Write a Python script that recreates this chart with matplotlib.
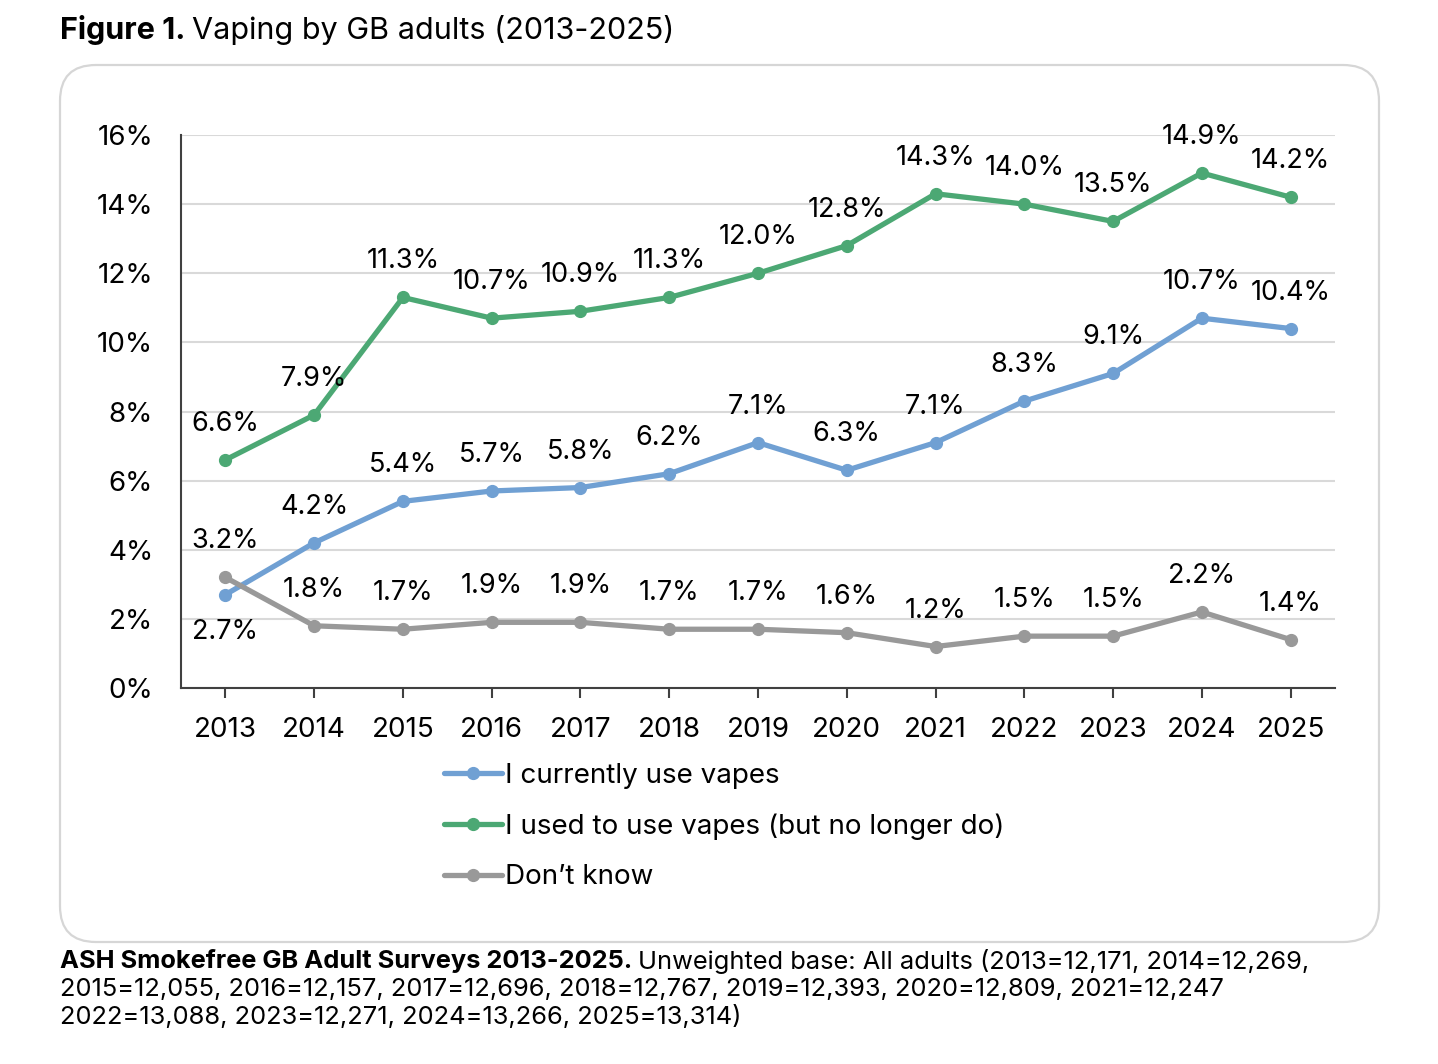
import numpy as np
import matplotlib.pyplot as plt
from matplotlib.patches import FancyBboxPatch

plt.rcParams['font.family'] = ['Inter', 'DejaVu Sans']

# datos
years = ["2013", "2014", "2015", "2016", "2017", "2018", "2019",
         "2020", "2021", "2022", "2023", "2024", "2025"]
current = [2.7, 4.2, 5.4, 5.7, 5.8, 6.2, 7.1, 6.3, 7.1, 8.3, 9.1, 10.7, 10.4]
former = [6.6, 7.9, 11.3, 10.7, 10.9, 11.3, 12.0, 12.8, 14.3, 14.0, 13.5, 14.9, 14.2]
dont_know = [3.2, 1.8, 1.7, 1.9, 1.9, 1.7, 1.7, 1.6, 1.2, 1.5, 1.5, 2.2, 1.4]
labels = ["I currently use vapes", "I used to use vapes (but no longer do)", "Don\u2019t know"]
colors = ["#70a0d3", "#4ca874", "#999999"]

fig = plt.figure(figsize=(14.38, 10.64), dpi=100)

# caja redondeada
box = FancyBboxPatch((60/1438, 1-942/1064), (1379-60)/1438, (942-65)/1064,
                     boxstyle="round,pad=0,rounding_size=0.025",
                     transform=fig.transFigure, facecolor="white",
                     edgecolor="#d6d6d6", linewidth=1.6, mutation_aspect=1438/1064,
                     zorder=-5)
fig.patches.append(box)

ax = fig.add_axes([181/1438, 1-688/1064, (1335-181)/1438, (688-135)/1064])
ax.patch.set_alpha(0)
x = np.arange(len(years))

series = [current, former, dont_know]
for vals, lab, col in zip(series, labels, colors):
    ax.plot(x, vals, color=col, linewidth=3.8, marker="o", markersize=8.5,
            label=lab, solid_capstyle="round", zorder=3)

def put_labels(vals, below=()):
    for i, v in enumerate(vals):
        dy = -37 if i in below else 36
        ax.annotate(f"{v:.1f}%", (i, v), xytext=(0, dy), textcoords="offset pixels",
                    ha="center", va="center", fontsize=19.5, color="black")

put_labels(current, below=(0,))
put_labels(former)
put_labels(dont_know)

ax.set_xlim(-0.5, len(years) - 0.5)
ax.set_ylim(0, 16)
ax.set_yticks(np.arange(0, 17, 2))
ax.set_yticklabels([f"{t}%" for t in range(0, 17, 2)])
ax.set_xticks(x)
ax.set_xticklabels(years)
ax.tick_params(axis="y", length=0, pad=20, labelsize=20)
ax.tick_params(axis="x", length=7, width=1.5, color="#404040", pad=14, labelsize=20)
ax.grid(axis="y", color="#d9d9d9", linewidth=1.5)
ax.set_axisbelow(True)
for s in ["top", "right"]:
    ax.spines[s].set_visible(False)
for s in ["left", "bottom"]:
    ax.spines[s].set_color("#404040")
    ax.spines[s].set_linewidth(1.5)

leg = fig.legend(loc="upper left", bbox_to_anchor=(430/1438, 1-749/1064), frameon=False,
                 fontsize=20, handlelength=2.1, handletextpad=0.1, labelspacing=0.88,
                 borderpad=0)

# titulo y pie
r = fig.canvas.get_renderer()
t1 = fig.text(60/1438, 1-30/1064, "Figure 1.", fontsize=22, fontweight="bold", va="center")
w = t1.get_window_extent(r).width
fig.text((60 + w + 7)/1438, 1-30/1064, "Vaping by GB adults (2013-2025)", fontsize=22, va="center")

f1 = fig.text(60/1438, 1-961/1064, "ASH Smokefree GB Adult Surveys 2013-2025.", fontsize=18.3,
              fontweight="bold", va="center")
w2 = f1.get_window_extent(r).width
fig.text((60 + w2 + 6)/1438, 1-961/1064,
         "Unweighted base: All adults (2013=12,171, 2014=12,269,", fontsize=18.3, va="center")
fig.text(60/1438, 1-989/1064,
         "2015=12,055, 2016=12,157, 2017=12,696, 2018=12,767, 2019=12,393, 2020=12,809, 2021=12,247",
         fontsize=18.3, va="center")
fig.text(60/1438, 1-1017/1064,
         "2022=13,088, 2023=12,271, 2024=13,266, 2025=13,314)", fontsize=18.3, va="center")

fig.savefig("out.png", dpi=100)
